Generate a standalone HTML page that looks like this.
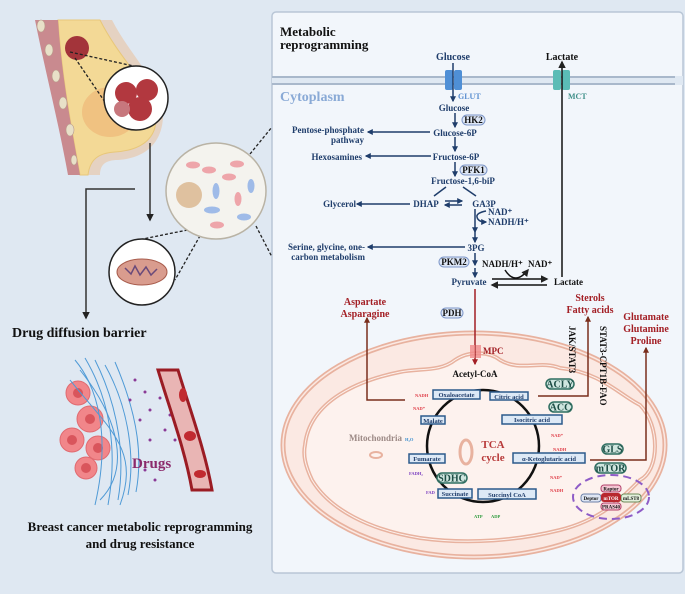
<!DOCTYPE html>
<html><head><meta charset="utf-8"><style>
body{margin:0;background:#dfe8f2}
svg{display:block}
text{font-family:"Liberation Serif",serif;font-weight:bold}
</style></head><body>
<svg width="685" height="594" viewBox="0 0 685 594" xmlns="http://www.w3.org/2000/svg">
<defs>
<marker id="a" viewBox="0 0 10 10" refX="8" refY="5" markerWidth="4" markerHeight="4" orient="auto-start-reverse"><path d="M0,0L10,5L0,10z" fill="#1f3d6b"/></marker>
<marker id="k" viewBox="0 0 10 10" refX="8" refY="5" markerWidth="5" markerHeight="5" orient="auto-start-reverse"><path d="M0,0L10,5L0,10z" fill="#222"/></marker>
<marker id="b" viewBox="0 0 10 10" refX="8" refY="5" markerWidth="4" markerHeight="4" orient="auto"><path d="M0,0L10,5L0,10z" fill="#7a2e1c"/></marker>
<marker id="r" viewBox="0 0 10 10" refX="8" refY="5" markerWidth="4" markerHeight="4" orient="auto"><path d="M0,0L10,5L0,10z" fill="#a31f25"/></marker>
</defs>
<rect width="685" height="594" fill="#dfe8f2"/>
<!-- right panel -->
<rect x="272" y="12" width="411" height="561" rx="4" fill="#f2f6fb" stroke="#b9c6d6" stroke-width="1.5"/>
<rect x="272" y="76" width="411" height="9" fill="#dfe8f2"/>
<line x1="272" y1="77" x2="675" y2="77" stroke="#a9b8cb" stroke-width="2"/>
<line x1="272" y1="84" x2="675" y2="84" stroke="#a9b8cb" stroke-width="2"/>
<text x="280" y="36" font-size="13" fill="#111">Metabolic</text>
<text x="280" y="49" font-size="13" fill="#111">reprogramming</text>
<text x="280" y="101" font-size="14" fill="#8aaad6">Cytoplasm</text>
<!-- channels -->
<rect x="445" y="70" width="8" height="20" rx="2" fill="#4f8fd6"/><rect x="454" y="70" width="8" height="20" rx="2" fill="#4f8fd6"/>
<rect x="553" y="70" width="8" height="20" rx="2" fill="#5bbcb6"/><rect x="562" y="70" width="8" height="20" rx="2" fill="#5bbcb6"/>
<text x="453" y="60" font-size="10" fill="#1f3d6b" text-anchor="middle">Glucose</text>
<text x="562" y="60" font-size="10" fill="#111" text-anchor="middle">Lactate</text>
<text x="458" y="99" font-size="8" fill="#5b8fd0">GLUT</text>
<text x="568" y="99" font-size="8" fill="#3f8f88">MCT</text>
<g stroke="#1f3d6b" stroke-width="1.5" fill="none">
<line x1="453" y1="63" x2="453" y2="101" marker-end="url(#a)"/>
<line x1="455" y1="113" x2="455" y2="127" marker-end="url(#a)"/>
<line x1="455" y1="137" x2="455" y2="151" marker-end="url(#a)"/>
<line x1="455" y1="162" x2="455" y2="176" marker-end="url(#a)"/>
<line x1="430" y1="132" x2="368" y2="132" marker-end="url(#a)"/>
<line x1="431" y1="156" x2="366" y2="156" marker-end="url(#a)"/>
<line x1="446" y1="187" x2="434" y2="196"/>
<line x1="463" y1="187" x2="476" y2="196"/>
<line x1="445" y1="201" x2="462" y2="201" marker-end="url(#a)"/>
<line x1="462" y1="205" x2="445" y2="205" marker-end="url(#a)"/>
<line x1="410" y1="204" x2="357" y2="204" marker-end="url(#a)"/>
<path d="M475,209 L475,232" marker-end="url(#a)"/>
<path d="M486,211 Q476,213 477,217 Q478,222 486,222" marker-end="url(#a)"/>
<line x1="475" y1="232" x2="475" y2="242" marker-end="url(#a)"/>
<line x1="465" y1="247" x2="368" y2="247" marker-end="url(#a)"/>
<line x1="475" y1="253" x2="475" y2="265" marker-end="url(#a)"/>
<line x1="475" y1="268" x2="475" y2="277" marker-end="url(#a)"/>
</g>
<g stroke="#111" stroke-width="1.5" fill="none">
<line x1="492" y1="279" x2="547" y2="279" marker-end="url(#k)"/>
<line x1="547" y1="285" x2="492" y2="285" marker-end="url(#k)"/>
<path d="M505,270 Q515,286 528,270" marker-end="url(#k)"/>
<line x1="562" y1="277" x2="562" y2="62" marker-end="url(#k)"/>
</g>
<g font-size="9" fill="#1f3d6b">
<text x="454" y="111" text-anchor="middle">Glucose</text>
<text x="455" y="136" text-anchor="middle">Glucose-6P</text>
<text x="364" y="133" text-anchor="end">Pentose-phosphate</text>
<text x="364" y="143" text-anchor="end">pathway</text>
<text x="456" y="160" text-anchor="middle">Fructose-6P</text>
<text x="362" y="160" text-anchor="end">Hexosamines</text>
<text x="463" y="184" text-anchor="middle">Fructose-1,6-biP</text>
<text x="426" y="207" text-anchor="middle">DHAP</text>
<text x="484" y="207" text-anchor="middle">GA3P</text>
<text x="356" y="207" text-anchor="end">Glycerol</text>
<text x="488" y="215">NAD⁺</text>
<text x="488" y="225">NADH/H⁺</text>
<text x="476" y="251" text-anchor="middle">3PG</text>
<text x="365" y="250" text-anchor="end">Serine, glycine, one-</text>
<text x="365" y="260" text-anchor="end">carbon metabolism</text>
<text x="469" y="285" text-anchor="middle">Pyruvate</text>
</g>
<g font-size="9" fill="#111">
<text x="482" y="267">NADH/H⁺</text>
<text x="528" y="267">NAD⁺</text>
<text x="554" y="285">Lactate</text>
</g>
<g font-size="9" fill="#111">
<rect x="462" y="115" width="23" height="10" rx="5" fill="#dde6f5" stroke="#7d96c8"/><text x="473.5" y="123" text-anchor="middle">HK2</text>
<rect x="460" y="165" width="27" height="10" rx="5" fill="#dde6f5" stroke="#7d96c8"/><text x="473.5" y="173" text-anchor="middle">PFK1</text>
<rect x="439" y="257" width="30" height="10" rx="5" fill="#dde6f5" stroke="#7d96c8"/><text x="454" y="265" text-anchor="middle">PKM2</text>
<rect x="441" y="308" width="22" height="10" rx="5" fill="#dde6f5" stroke="#7d96c8"/><text x="452" y="316" text-anchor="middle">PDH</text>
</g>
<!-- mitochondria -->
<ellipse cx="474" cy="445" rx="191" ry="112" fill="#fbe9e3" stroke="#e8b29f" stroke-width="5"/>
<ellipse cx="474" cy="445" rx="191" ry="112" fill="none" stroke="#fbe9e3" stroke-width="1.5"/>
<path d="M305,445 C310,400 360,380 400,372 C420,368 440,372 455,360 C470,350 490,352 500,360 C520,372 540,360 560,368 C600,372 620,395 640,405 C660,425 660,470 640,480 C620,500 600,520 560,530 C520,540 470,545 420,538 C370,530 330,510 312,480 C305,465 303,455 305,445Z" fill="#fdf2ee" stroke="#e8b29f" stroke-width="4"/>
<path d="M305,445 C310,400 360,380 400,372 C420,368 440,372 455,360 C470,350 490,352 500,360 C520,372 540,360 560,368 C600,372 620,395 640,405 C660,425 660,470 640,480 C620,500 600,520 560,530 C520,540 470,545 420,538 C370,530 330,510 312,480 C305,465 303,455 305,445Z" fill="none" stroke="#fdf2ee" stroke-width="1"/>
<ellipse cx="466" cy="452" rx="6" ry="12" fill="none" stroke="#e8b29f" stroke-width="3"/>
<ellipse cx="376" cy="455" rx="6" ry="3" fill="none" stroke="#e8b29f" stroke-width="2"/>
<text x="349" y="441" font-size="9" fill="#9d8a86">Mitochondria</text>
<text x="493" y="448" font-size="11" fill="#b83a3a" text-anchor="middle">TCA</text>
<text x="493" y="461" font-size="11" fill="#b83a3a" text-anchor="middle">cycle</text>
<line x1="475" y1="289" x2="475" y2="364" stroke="#a31f25" stroke-width="1.5" marker-end="url(#r)"/>
<rect x="470" y="345" width="5" height="13" fill="#f08a8a" opacity="0.8"/><rect x="476" y="345" width="5" height="13" fill="#f08a8a" opacity="0.8"/>
<text x="483" y="354" font-size="9" fill="#a31f25">MPC</text>
<text x="475" y="377" font-size="9" fill="#111" text-anchor="middle">Acetyl-CoA</text>
<circle cx="483" cy="446" r="56" fill="none" stroke="#111" stroke-width="2.5"/>
<g fill="#dde9f6" stroke="#2c5a8c" stroke-width="1.5">
<rect x="433" y="390" width="47" height="9"/>
<rect x="490" y="392" width="38" height="8"/>
<rect x="502" y="415" width="60" height="9"/>
<rect x="513" y="453" width="72" height="10"/>
<rect x="478" y="489" width="58" height="10"/>
<rect x="438" y="489" width="34" height="9"/>
<rect x="409" y="454" width="36" height="9"/>
<rect x="421" y="416" width="24" height="8"/>
</g>
<g font-size="6.5" fill="#1f3d6b" text-anchor="middle">
<text x="456.5" y="397">Oxaloacetate</text>
<text x="509" y="399">Citric acid</text>
<text x="532" y="422">Isocitric acid</text>
<text x="549" y="461">α-Ketoglutaric acid</text>
<text x="507" y="497">Succinyl CoA</text>
<text x="455" y="496">Succinate</text>
<text x="427" y="461">Fumarate</text>
<text x="433" y="423">Malate</text>
</g>
<g font-size="4.5" fill="#e0404a">
<text x="415" y="397">NADH</text><text x="413" y="410">NAD⁺</text>
<text x="551" y="437">NAD⁺</text><text x="553" y="451">NADH</text>
<text x="550" y="479">NAD⁺</text><text x="550" y="492">NADH</text>
</g>
<text x="405" y="441" font-size="4.5" fill="#3a8fd0">H₂O</text>
<text x="409" y="475" font-size="4.5" fill="#7b3fc0">FADH₂</text>
<text x="426" y="494" font-size="4.5" fill="#7b3fc0">FAD</text>
<text x="474" y="518" font-size="4.5" fill="#2a9a3a">ATP</text>
<text x="491" y="518" font-size="4.5" fill="#2a9a3a">ADP</text>
<g font-size="10" fill="#1d4d45" text-anchor="middle">
<rect x="546" y="379" width="28" height="10" rx="5" fill="#cfe6df" stroke="#2f6e60" stroke-width="1.5"/><text x="560" y="387.5">ACLY</text>
<rect x="549" y="402" width="23" height="10" rx="5" fill="#cfe6df" stroke="#2f6e60" stroke-width="1.5"/><text x="560.5" y="410.5">ACC</text>
<rect x="602" y="444" width="21" height="10" rx="5" fill="#cfe6df" stroke="#2f6e60" stroke-width="1.5"/><text x="612.5" y="452.5">GLS</text>
<rect x="595" y="463" width="31" height="10" rx="5" fill="#cfe6df" stroke="#2f6e60" stroke-width="1.5"/><text x="610.5" y="471.5">mTOR</text>
<rect x="437" y="473" width="30" height="10" rx="5" fill="#cfe6df" stroke="#2f6e60" stroke-width="1.5"/><text x="452" y="481.5">SDHC</text>
</g>
<ellipse cx="611" cy="497" rx="38" ry="22" fill="none" stroke="#8e5cc7" stroke-width="2" stroke-dasharray="8,5"/>
<g font-size="5" text-anchor="middle" fill="#111">
<rect x="601" y="485" width="20" height="7" rx="3" fill="#f3c7d4" stroke="#b3406a"/><text x="611" y="490.5">Raptor</text>
<rect x="581" y="494" width="20" height="8" rx="3" fill="#dfe6f4" stroke="#6c80a8"/><text x="591" y="500">Deptor</text>
<rect x="621" y="494" width="20" height="8" rx="3" fill="#e3f0dc" stroke="#6c8a5a"/><text x="631" y="500">mLST8</text>
<rect x="601" y="493" width="20" height="9" rx="3" fill="#b8282e"/><text x="611" y="500" fill="#fff">mTOR</text>
<rect x="601" y="503" width="20" height="7" rx="3" fill="#f3c7d4" stroke="#b3406a"/><text x="611" y="508.5">PRAS40</text>
</g>
<g stroke="#7a2e1c" stroke-width="1.5" fill="none">
<polyline points="405,400 367,400 367,318" marker-end="url(#b)"/>
<polyline points="538,396 588,396 588,317" marker-end="url(#b)"/>
<polyline points="590,460 646,460 646,348" marker-end="url(#b)"/>
</g>
<g font-size="10" fill="#a31f25" text-anchor="middle">
<text x="365" y="305">Aspartate</text><text x="365" y="317">Asparagine</text>
<text x="590" y="301">Sterols</text><text x="590" y="313">Fatty acids</text>
<text x="646" y="320">Glutamate</text><text x="646" y="332">Glutamine</text><text x="646" y="344">Proline</text>
</g>
<text transform="translate(569,326) rotate(90)" font-size="9" fill="#111">JAK/STAT3</text>
<text transform="translate(600,326) rotate(90)" font-size="9" fill="#111">STAT3-CPT1B-FAO</text>
<!-- left side: breast -->
<path d="M100,20 L112,20 C130,55 162,85 163,112 C164,140 148,158 118,160 C105,160 100,165 100,175 L88,175 C90,158 100,153 115,152 C145,150 160,135 155,110 C150,85 120,60 100,20Z" fill="#e5d2c2"/>
<path d="M58,20 L100,20 C120,60 150,85 155,110 C160,135 145,150 115,152 C100,153 90,158 88,175 L80,175 C72,130 62,80 58,20Z" fill="#f3d996" stroke="#e8c77a"/>
<path d="M35,20 L58,20 C62,80 72,130 80,175 L68,175 C58,120 45,70 35,20Z" fill="#c98a8f"/>
<ellipse cx="110" cy="112" rx="28" ry="25" fill="#eeb878" opacity="0.7"/>
<g fill="#e8e0c8" stroke="#b89a8a" stroke-width="0.6"><ellipse cx="41" cy="26" rx="4" ry="6"/><ellipse cx="49" cy="50" rx="4" ry="6"/><ellipse cx="56" cy="76" rx="4" ry="6"/><ellipse cx="63" cy="103" rx="4" ry="6"/><ellipse cx="70" cy="130" rx="4" ry="6"/><ellipse cx="74" cy="160" rx="3" ry="5"/></g>
<circle cx="77" cy="48" r="12" fill="#a3343a"/>
<g stroke="#222" stroke-width="1.3" stroke-dasharray="3,2" fill="none">
<line x1="70" y1="52" x2="138" y2="67"/><line x1="75" y1="58" x2="107" y2="105"/>
<line x1="250" y1="154" x2="272" y2="127"/><line x1="256" y1="226" x2="272" y2="257"/>
<line x1="212" y1="225" x2="138" y2="240"/><line x1="205" y1="227" x2="175" y2="280"/>
</g>
<circle cx="136" cy="98" r="32" fill="#fff" stroke="#222" stroke-width="1.5"/>
<g fill="#b2383f"><circle cx="126" cy="93" r="11"/><circle cx="147" cy="90" r="11"/><circle cx="140" cy="109" r="12"/><circle cx="122" cy="109" r="8" fill="#c7777d"/></g>
<line x1="150" y1="143" x2="150" y2="220" stroke="#333" stroke-width="1.5" marker-end="url(#k)"/>
<polyline points="135,189 86,189 86,318" fill="none" stroke="#333" stroke-width="1.5" marker-end="url(#k)"/>
<ellipse cx="216" cy="191" rx="50" ry="48" fill="#f4f3ee" stroke="#b9b3a5" stroke-width="1.5"/>
<circle cx="189" cy="195" r="13" fill="#dfc19f"/>
<g fill="#eea5aa"><ellipse cx="193" cy="165" rx="7" ry="3.5"/><ellipse cx="209" cy="170" rx="7" ry="3.5"/><ellipse cx="237" cy="164" rx="7" ry="3.5"/><ellipse cx="229" cy="177" rx="7" ry="3.5"/><ellipse cx="238" cy="199" rx="3.5" ry="7"/><ellipse cx="217" cy="225" rx="7" ry="3.5"/></g>
<g fill="#9fbbe8"><ellipse cx="216" cy="191" rx="3.5" ry="8"/><ellipse cx="212" cy="210" rx="8" ry="3.5"/><ellipse cx="251" cy="186" rx="3.5" ry="7"/><ellipse cx="244" cy="217" rx="7" ry="3.5"/></g>
<circle cx="142" cy="272" r="33" fill="#fff" stroke="#222" stroke-width="1.5"/>
<ellipse cx="142" cy="272" rx="25" ry="13" fill="#d99c8e" stroke="#a85c4c"/>
<path d="M125,268 l6,6 l4,-8 l5,9 l6,-8 l5,8 l6,-6" stroke="#6a4a7a" stroke-width="1.5" fill="none"/>
<text x="12" y="337" font-size="14" fill="#111">Drug diffusion barrier</text>
<g fill="#f1868a" stroke="#e06a70"><circle cx="78" cy="393" r="12"/><circle cx="90" cy="419" r="13"/><circle cx="72" cy="440" r="12"/><circle cx="98" cy="448" r="12"/><circle cx="86" cy="468" r="11"/></g>
<g fill="#d9555c"><circle cx="78" cy="393" r="5"/><circle cx="90" cy="419" r="5"/><circle cx="72" cy="440" r="5"/><circle cx="98" cy="448" r="5"/><circle cx="86" cy="468" r="5"/></g>
<g stroke="#4f9ad6" stroke-width="1" fill="none">
<path d="M75,360 C100,390 110,440 95,505"/><path d="M85,358 C110,400 118,450 108,505"/><path d="M95,360 C120,410 125,460 118,500"/><path d="M105,365 C130,410 135,460 128,495"/><path d="M115,362 C140,420 142,460 136,492"/><path d="M80,370 C120,420 130,470 100,500"/><path d="M70,380 C110,430 140,450 120,505"/>
</g>
<g fill="#8a3a96"><circle cx="135" cy="380" r="1.5"/><circle cx="145" cy="392" r="1.5"/><circle cx="160" cy="398" r="1.5"/><circle cx="150" cy="410" r="1.5"/><circle cx="170" cy="415" r="1.5"/><circle cx="140" cy="420" r="1.5"/><circle cx="180" cy="410" r="1.5"/><circle cx="165" cy="430" r="1.5"/><circle cx="150" cy="440" r="1.5"/><circle cx="175" cy="440" r="1.5"/><circle cx="155" cy="480" r="1.5"/><circle cx="145" cy="470" r="1.5"/><circle cx="130" cy="400" r="1.5"/></g>
<path d="M158,370 L178,370 C190,410 205,450 212,490 L192,490 C185,450 170,410 158,370Z" fill="#e9b5b4" stroke="#9b1c24" stroke-width="3"/>
<g fill="#c12a30"><ellipse cx="183" cy="395" rx="4" ry="7"/><ellipse cx="190" cy="436" rx="6" ry="5"/><ellipse cx="200" cy="474" rx="6" ry="4"/></g>
<text x="132" y="468" font-size="15" fill="#8b2a6b">Drugs</text>
<text x="140" y="531" font-size="13" fill="#111" text-anchor="middle">Breast cancer metabolic reprogramming</text>
<text x="140" y="548" font-size="13" fill="#111" text-anchor="middle">and drug resistance</text>
</svg>
</body></html>
